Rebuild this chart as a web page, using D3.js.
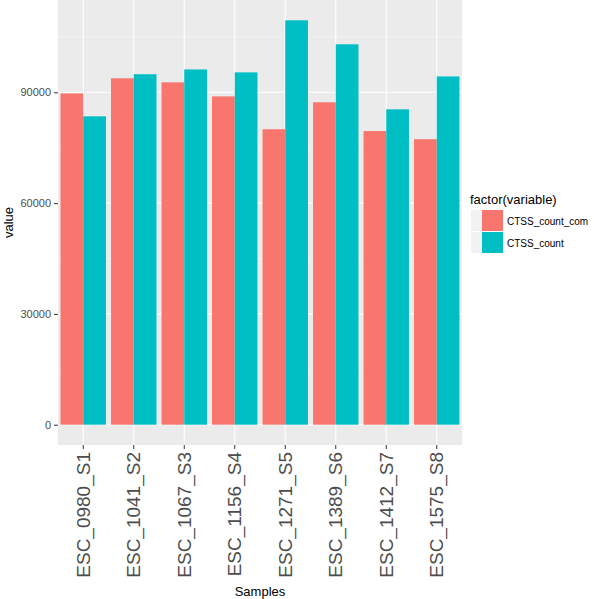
<!DOCTYPE html>
<html><head><meta charset="utf-8">
<script src="https://cdn.jsdelivr.net/npm/d3@7"></script>
<style>body{margin:0;background:#fff}text{font-family:"Liberation Sans",Arial,sans-serif}</style>
</head><body><svg id="c" width="594" height="599"></svg>
<script>
const samples=["ESC_0980_S1","ESC_1041_S2","ESC_1067_S3","ESC_1156_S4","ESC_1271_S5","ESC_1389_S6","ESC_1412_S7","ESC_1575_S8"];
const seriesNames=["CTSS_count_com","CTSS_count"];
const ctssCountCom=[89700,93800,92700,88900,80000,87300,79500,77300];
const ctssCount=[83500,94900,96200,95400,109500,103000,85400,94300];
const yTicks=[0,30000,60000,90000];
const colors=["#F8766D","#00BFC4"];

const svg=d3.select("#c");
const L=58,R=462,T=0,B=445;
const x=d3.scaleBand().domain(samples).range([L,R]).paddingInner(0.1).paddingOuter(0.05);
const y=d3.scaleLinear().domain([-5500,115000]).range([B,T]);
svg.append("rect").attr("x",L).attr("y",T).attr("width",R-L).attr("height",B-T).attr("fill","#EBEBEB");
const minor=[15000,45000,75000,105000];
svg.selectAll(".mn").data(minor).enter().append("line").attr("x1",L).attr("x2",R).attr("y1",d=>y(d)).attr("y2",d=>y(d)).attr("stroke","#F5F5F5").attr("stroke-width",0.6);
svg.selectAll(".mj").data(yTicks).enter().append("line").attr("x1",L).attr("x2",R).attr("y1",d=>y(d)).attr("y2",d=>y(d)).attr("stroke","#fff").attr("stroke-width",1.1);
svg.selectAll(".vx").data(samples).enter().append("line").attr("y1",T).attr("y2",B).attr("x1",d=>x(d)+x.bandwidth()/2).attr("x2",d=>x(d)+x.bandwidth()/2).attr("stroke","#fff").attr("stroke-width",1.1);
const inner=d3.scaleBand().domain(seriesNames).range([0,x.bandwidth()]);
const rows=samples.map((s,i)=>({s,v:[ctssCountCom[i],ctssCount[i]]}));
rows.forEach(r=>{r.v.forEach((v,j)=>{
 svg.append("rect").attr("x",x(r.s)+inner(seriesNames[j])).attr("width",inner.bandwidth()).attr("y",y(v)).attr("height",y(0)-y(v)).attr("fill",colors[j]);
});});
const ya=svg.append("g").attr("transform",`translate(${L},0)`).call(d3.axisLeft(y).tickValues(yTicks).tickFormat(d3.format("d")).tickSize(4).tickPadding(3));
ya.select(".domain").remove();
ya.selectAll("line").attr("stroke","#333");
ya.selectAll("text").attr("font-size",11).attr("fill","#4d4d4d");
const xa=svg.append("g").attr("transform",`translate(0,${B})`).call(d3.axisBottom(x).tickSize(4));
xa.select(".domain").remove();
xa.selectAll("line").attr("stroke","#333");
xa.selectAll("text").attr("font-size",19).attr("fill","#4d4d4d").attr("transform","rotate(-90)").attr("text-anchor","end").attr("dy","0.35em").attr("x",-7).attr("y",0);
svg.append("text").attr("x",(L+R)/2).attr("y",596).attr("text-anchor","middle").attr("font-size",13).text("Samples");
svg.append("text").attr("transform",`translate(13,${(T+B)/2}) rotate(-90)`).attr("text-anchor","middle").attr("font-size",13).text("value");
svg.append("text").attr("x",470).attr("y",204).attr("font-size",13).text("factor(variable)");
seriesNames.forEach((n,i)=>{
 svg.append("rect").attr("x",471).attr("y",210+i*22).attr("width",32).attr("height",21).attr("fill","#F2F2F2");
 svg.append("rect").attr("x",482).attr("y",210+i*22).attr("width",21).attr("height",21).attr("fill",colors[i]);
 svg.append("text").attr("x",507).attr("y",221+i*22).attr("dy","0.35em").attr("font-size",10).text(n);
});
</script></body></html>
